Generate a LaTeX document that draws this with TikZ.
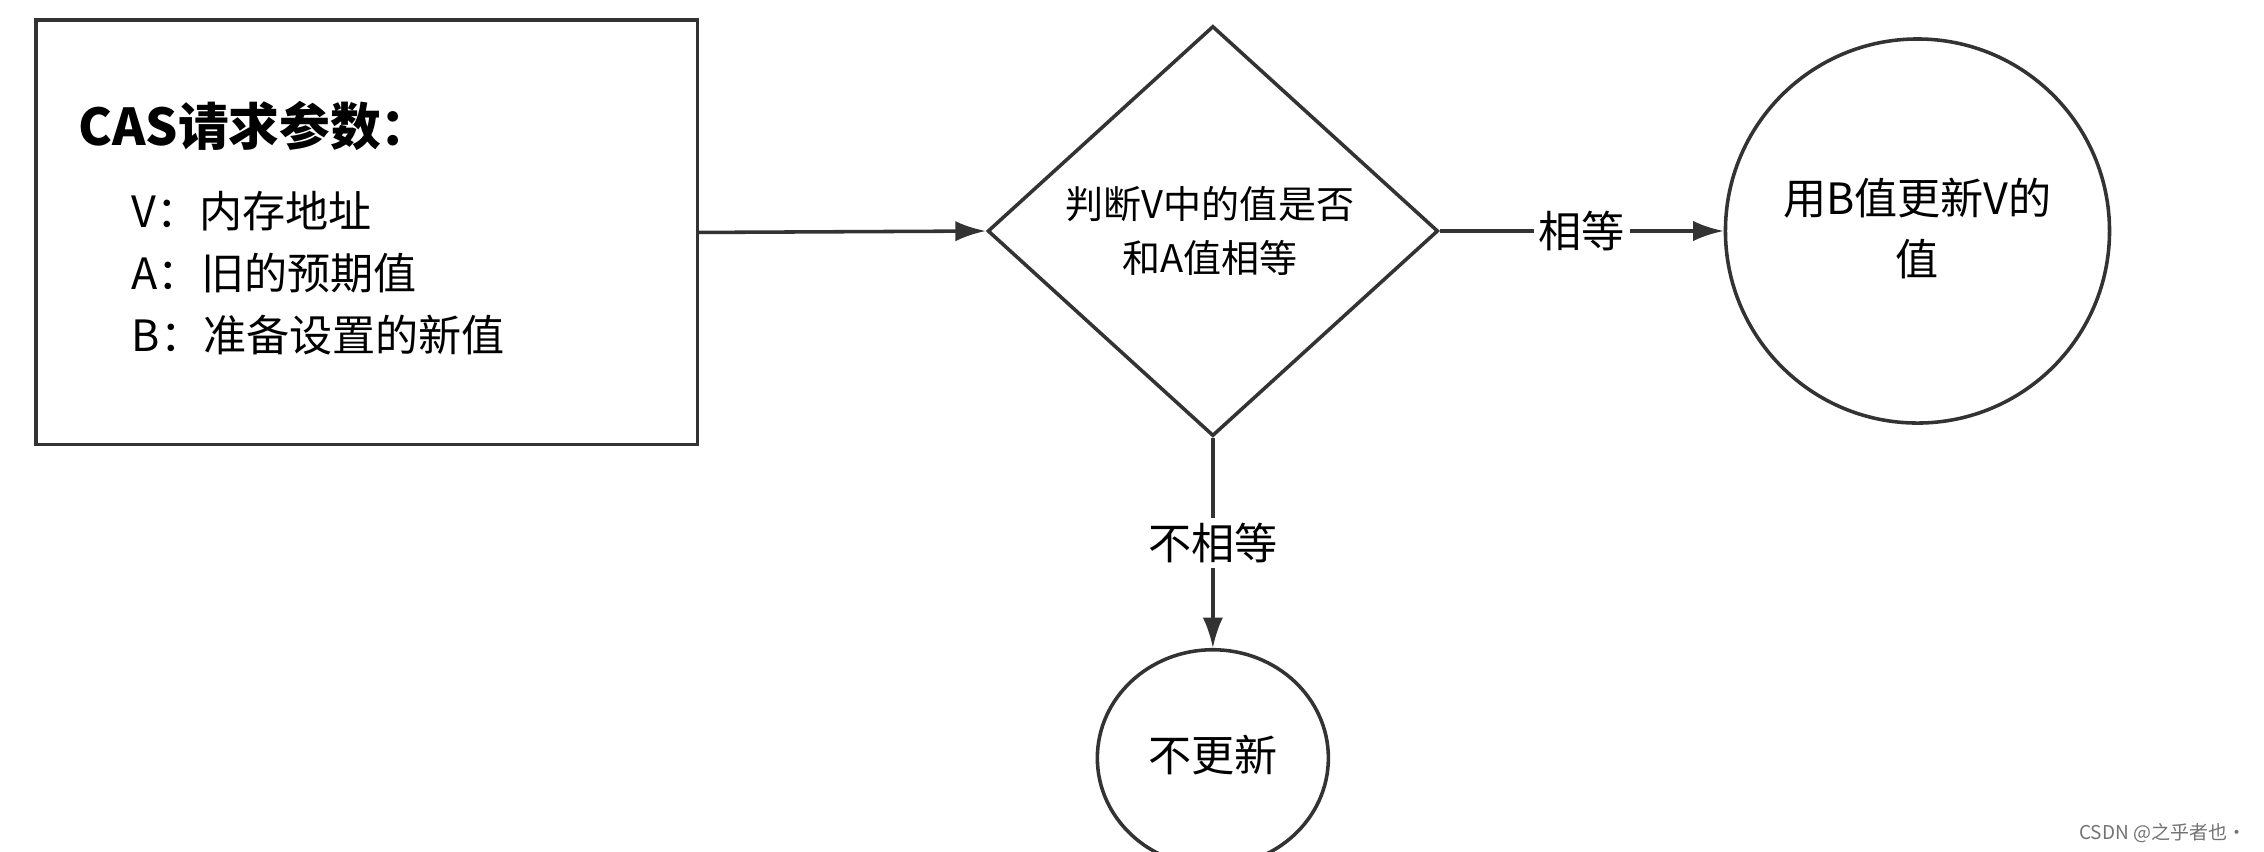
\documentclass[tikz,border=0pt]{standalone}
\usepackage{fontspec}
\setmainfont{Noto Sans CJK SC}
\usetikzlibrary{shapes.geometric,arrows.meta}
\begin{document}
\begin{tikzpicture}[x=0.02cm,y=-0.02cm,
  line/.style={draw=black!80,line width=1.4pt},
  arr/.style={line,-{Latex[length=12pt,width=8pt]}},
  lbl/.style={fill=white,inner sep=2pt,font=\fontsize{17}{20}\selectfont}]
\clip (0,0) rectangle (1568,590);
\fill[white] (0,0) rectangle (1568,590);
\node[line,rectangle,minimum width=458*0.02cm,minimum height=294*0.02cm] (box) at (254,161) {};
\node[anchor=west,font=\fontsize{20}{24}\selectfont\bfseries] (t) at (48,87) {CAS请求参数：};
\node[anchor=west,align=left,font=\fontsize{17}{24.4}\selectfont] (l) at (85,189) {V：内存地址\\A：旧的预期值\\B：准备设置的新值};
\node[line,diamond,minimum width=312*0.02cm,minimum height=284*0.02cm,inner sep=0pt] (d) at (840,160) {};
\node[align=center,font=\fontsize{15}{21}\selectfont] at (838,160) {判断V中的值是否\\和A值相等};
\node[line,ellipse,minimum width=266*0.02cm,minimum height=266*0.02cm] (c1) at (1328,160) {};
\node[align=center,font=\fontsize{17}{24}\selectfont] at (1328,158) {用B值更新V的\\值};
\node[line,ellipse,minimum width=160*0.02cm,minimum height=150*0.02cm] (c2) at (840,525) {};
\node[font=\fontsize{17}{20}\selectfont] at (840,523) {不更新};
\draw[arr] (box.east) -- (d.west);
\draw[arr] (d.east) -- node[lbl]{相等} (c1.west);
\draw[arr] (d.south) -- node[lbl,pos=0.5]{不相等} (c2.north);
\node[anchor=east,text=black!55,font=\fontsize{7.5}{9}\selectfont] (w) at (1562,577) {CSDN @之乎者也·};
\end{tikzpicture}
\end{document}
